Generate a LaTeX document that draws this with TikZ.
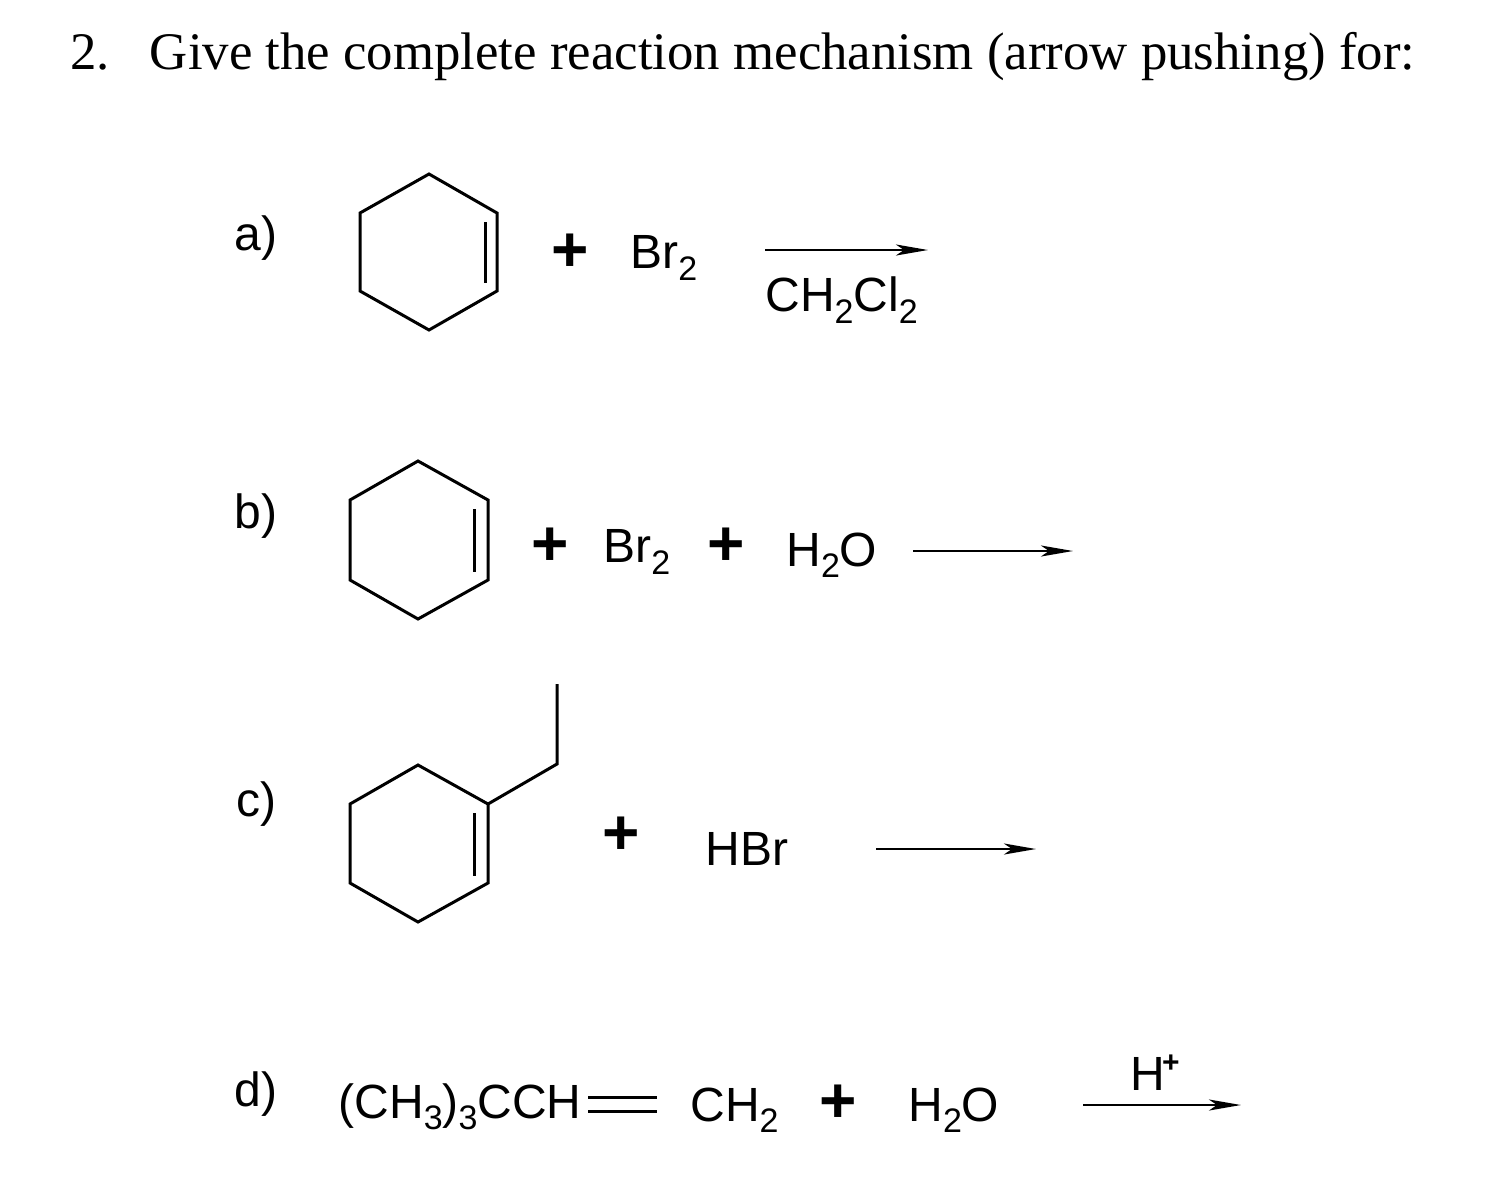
\documentclass[tikz,border=0pt]{standalone}
\usepackage{fontspec}
\setmainfont{Liberation Serif}
\setsansfont{Liberation Sans}
\usetikzlibrary{arrows.meta}
\newcommand{\cs}[1]{\raisebox{-0.45ex}{\fontsize{17}{20}\selectfont #1}}
\newcommand{\csup}[1]{\kern-1.5pt\raisebox{0.7ex}{\fontsize{15}{18}\selectfont\bfseries #1}}
\begin{document}
\begin{tikzpicture}[x=0.5pt,y=-0.5pt,
  bond/.style={line width=1.5pt,line join=miter},
  rarrow/.style={line width=1.4pt,-{Stealth[length=16pt,width=5.5pt,inset=4pt]}},
  lab/.style={font=\sffamily\fontsize{24}{28}\selectfont,inner sep=0pt},
  pls/.style={font=\sffamily\bfseries\fontsize{32}{36}\selectfont,inner sep=0pt},
  ttl/.style={font=\rmfamily\fontsize{26.4}{32}\selectfont,inner sep=0pt,anchor=west}]
\useasboundingbox (0,0) rectangle (1509,1185);
\node[ttl] (title) at (70,57) {2.\hspace{20pt}Give the complete reaction mechanism (arrow pushing) for:};
% a
\node[lab] (la) at (256,238) {a)};
\draw[bond] (429,174)--(497,213)--(497,291)--(429,330)--(360,291)--(360,213)--cycle;
\draw[bond] (485,222)--(485,283);
\node[pls] (pa) at (570,253) {+};
\node[lab,anchor=west] (bra) at (630,258) {Br\cs{2}};
\coordinate (a1) at (765,250); \coordinate (a2) at (928,250);
\draw[rarrow] (a1)--(a2);
\node[lab,anchor=west] (cond) at (765,300) {CH\cs{2}Cl\cs{2}};
% b
\node[lab] (lb) at (256,516) {b)};
\draw[bond] (418,461)--(488,500)--(488,580)--(418,619)--(350,580)--(350,500)--cycle;
\draw[bond] (474,509)--(474,572);
\node[pls] (pb1) at (550,547) {+};
\node[lab,anchor=west] (brb) at (603,552) {Br\cs{2}};
\node[pls] (pb2) at (726,547) {+};
\node[lab,anchor=west] (h2ob) at (786,555) {H\cs{2}O};
\coordinate (b1) at (913,551); \coordinate (b2) at (1073,551);
\draw[rarrow] (b1)--(b2);
% c
\node[lab] (lc) at (256,804) {c)};
\draw[bond] (418,765)--(488,804)--(488,883)--(418,922)--(350,883)--(350,804)--cycle;
\draw[bond] (474,813)--(474,876);
\draw[bond] (488,804)--(557,764)--(557,684);
\node[pls] (pc) at (621,836) {+};
\node[lab,anchor=west] (hbr) at (705,849) {HBr};
\coordinate (c1) at (876,849); \coordinate (c2) at (1036,849);
\draw[rarrow] (c1)--(c2);
% d
\node[lab] (ld) at (256,1094) {d)};
\node[lab,anchor=east] (tb) at (582,1107) {(CH\cs{3})\cs{3}CCH};
\node[lab,anchor=west] (ch2) at (690,1110) {CH\cs{2}};
\draw[bond] (588,1097)--(657,1097);
\draw[bond] (588,1111)--(657,1111);
\node[pls] (pd) at (838,1104) {+};
\node[lab,anchor=west] (h2od) at (908,1110) {H\cs{2}O};
\coordinate (d1) at (1083,1105); \coordinate (d2) at (1241,1105);
\draw[rarrow] (d1)--(d2);
\node[lab] (hp) at (1155,1073) {H\csup{+}};
\end{tikzpicture}
\end{document}
